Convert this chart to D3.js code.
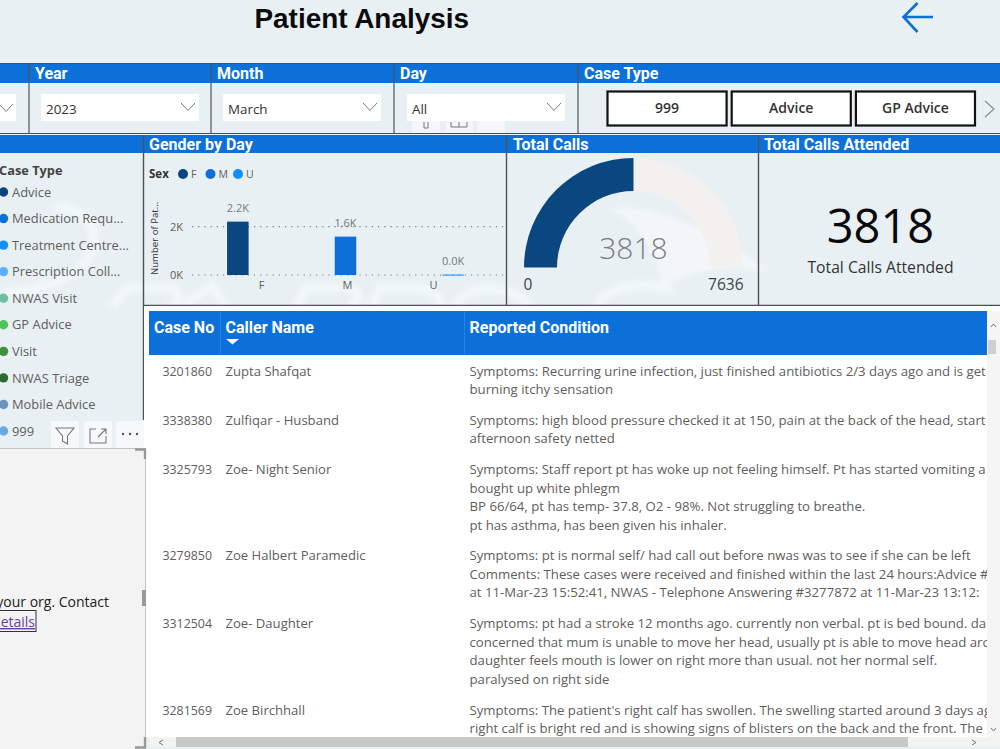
<!DOCTYPE html>
<html>
<head>
<meta charset="utf-8">
<script src="https://cdn.jsdelivr.net/npm/d3@7"></script>
<style>
  html, body { margin: 0; padding: 0; background: #e9f0f4; overflow: hidden; }
  svg { display: block; }
  text { font-family: "Open Sans", sans-serif; }
  .head { font-family: Roboto, sans-serif; font-weight: 700; fill: #fff; font-size: 16px; }
  .axis path, .axis line { display: none; }
</style>
</head>
<body>
<svg id="chart" width="1000" height="749"></svg>
<script>
// Data
var sexes = ["F", "M", "U"];
var patients = [2210, 1590, 18];
var totalCalls = 3818;
var gaugeMax = 7636;
var caseTypes = ["Advice", "Medication Requ...", "Treatment Centre...", "Prescription Coll...", "NWAS Visit",
  "GP Advice", "Visit", "NWAS Triage", "Mobile Advice", "999"];
var caseColors = ["#0a4480", "#0b71d9", "#118dff", "#5cb1ff", "#6fbf9f", "#4fc35b", "#3f8f3f", "#2a6b32", "#6b93bf", "#69a9e8"];
var slicerLabels = ["Year", "Month", "Day"];
var slicerValues = ["2023", "March", "All"];
var caseButtons = ["999", "Advice", "GP Advice"];
var caseNos = ["3201860", "3338380", "3325793", "3279850", "3312504", "3281569"];
var callers = ["Zupta Shafqat", "Zulfiqar - Husband", "Zoe- Night Senior", "Zoe Halbert Paramedic", "Zoe- Daughter", "Zoe Birchhall"];
var conditions = [
  ["Symptoms: Recurring urine infection, just finished antibiotics 2/3 days ago and is get",
   "burning itchy sensation"],
  ["Symptoms: high blood pressure checked it at 150, pain at the back of the head, start",
   "afternoon safety netted"],
  ["Symptoms: Staff report pt has woke up not feeling himself. Pt has started vomiting a",
   "bought up white phlegm",
   "BP 66/64, pt has temp- 37.8, O2 - 98%. Not struggling to breathe.",
   "pt has asthma, has been given his inhaler."],
  ["Symptoms: pt is normal self/ had call out before nwas was to see if she can be left",
   "Comments: These cases were received and finished within the last 24 hours:Advice #",
   "at 11-Mar-23 15:52:41, NWAS - Telephone Answering #3277872 at 11-Mar-23 13:12:"],
  ["Symptoms: pt had a stroke 12 months ago. currently non verbal. pt is bed bound. da",
   "concerned that mum is unable to move her head, usually pt is able to move head arc",
   "daughter feels mouth is lower on right more than usual. not her normal self.",
   "paralysed on right side"],
  ["Symptoms: The patient's right calf has swollen. The swelling started around 3 days ag",
   "right calf is bright red and is showing signs of blisters on the back and the front. The"]
];

var blue = "#0b71d9", navy = "#0a4780", grey = "#605e5c", edge = "#4d5256";
var svg = d3.select("#chart");
var defs = svg.append("defs");

defs.append("filter").attr("id", "soft").append("feGaussianBlur").attr("stdDeviation", 2.2);
defs.append("clipPath").attr("id", "tableClip").append("rect")
    .attr("x", 149).attr("y", 355).attr("width", 838).attr("height", 382);
defs.append("clipPath").attr("id", "greyClip").append("rect")
    .attr("x", 0).attr("y", 449).attr("width", 145).attr("height", 300);

// background, faint logo behind the panels
svg.append("rect").attr("width", 1000).attr("height", 749).attr("fill", "#e9f0f4");

var logo = svg.append("g").attr("filter", "url(#soft)").attr("fill", "none")
    .attr("stroke", "#f8fafb").attr("stroke-width", 9).attr("opacity", 0.65);
logo.append("path").attr("d", "M55 208C95 205 105 245 80 268C60 285 30 292 5 292");
logo.append("path").attr("d", "M112 306L128 288H165C182 288 182 300 170 306");
logo.append("path").attr("d", "M182 306L212 286L226 306");
logo.append("path").attr("d", "M296 306L306 288H345C360 288 362 300 350 306");
logo.append("path").attr("d", "M372 306L380 288H410C432 288 440 296 442 306");
logo.append("path").attr("d", "M455 306C465 284 510 282 530 306");
logo.append("path").attr("d", "M596 306C610 284 650 282 672 290");
logo.append("path").attr("stroke", "none").attr("fill", "#f8fafb")
    .attr("d", "M612 208C660 205 720 235 768 272C730 262 690 268 660 290C665 262 640 225 612 208Z");

// title and back arrow
svg.append("text").attr("x", 254.5).attr("y", 27.5).style("font-family", "'Liberation Sans'")
    .attr("font-size", 27.9).attr("font-weight", 700).attr("fill", "#0b0b0b").text("Patient Analysis");
svg.append("path").attr("fill", "none").attr("stroke", blue).attr("stroke-width", 2.6)
    .attr("d", "M933 17H904M917.5 3L903.5 17L917.5 32");

// slicer row
var slicerEdges = [29, 211, 394, 578, 1000];
svg.append("rect").attr("x", 0).attr("y", 64).attr("width", 1000).attr("height", 19).attr("fill", blue);
svg.append("path").attr("stroke", edge).attr("stroke-width", 1.2).attr("d", "M0 63.5H1000M0 133.5H1000");
svg.selectAll(".slicerEdge").data(slicerEdges.slice(0, 4)).enter().append("line")
    .attr("class", "slicerEdge").attr("x1", function(d) { return d; }).attr("x2", function(d) { return d; })
    .attr("y1", 64).attr("y2", 133).attr("stroke", edge).attr("stroke-width", 1.2);

function chevron(g, x, y) {
  g.append("path").attr("fill", "none").attr("stroke", "#77797c").attr("stroke-width", 1)
      .attr("d", "M" + (x - 7) + " " + (y - 4) + "L" + x + " " + (y + 3.5) + "L" + (x + 7) + " " + (y - 4));
}

svg.append("rect").attr("x", 0).attr("y", 94).attr("width", 16).attr("height", 27).attr("fill", "#fff");
chevron(svg, 6, 108);

slicerLabels.forEach(function(label, i) {
  var x0 = slicerEdges[i];
  svg.append("text").attr("class", "head").attr("x", x0 + 6).attr("y", 79).text(label);
  var left = (i == 2) ? 407 : x0 + 12;
  var right = (i == 2) ? 565 : x0 + 170;
  svg.append("rect").attr("x", left).attr("y", 94).attr("width", right - left).attr("height", 27).attr("fill", "#fff");
  svg.append("text").attr("x", left + 5).attr("y", 114).attr("font-size", 13.4).attr("fill", "#333")
      .text(slicerValues[i]);
  chevron(svg, right - 11, 107);
});

svg.append("text").attr("class", "head").attr("x", 584).attr("y", 79).text("Case Type");
var buttonX = d3.scaleBand().domain(caseButtons).range([606.5, 976]).paddingInner(0.025).paddingOuter(0);
var buttons = svg.selectAll(".caseButton").data(caseButtons).enter().append("g").attr("class", "caseButton");
buttons.append("rect")
    .attr("x", function(d) { return buttonX(d) + 1; })
    .attr("y", 91.5)
    .attr("width", buttonX.bandwidth() - 2)
    .attr("height", 34)
    .attr("fill", "#fff").attr("stroke", "#111").attr("stroke-width", 2.2);
buttons.append("text")
    .attr("x", function(d) { return buttonX(d) + buttonX.bandwidth() / 2; })
    .attr("y", 113).attr("text-anchor", "middle")
    .attr("font-size", 14).attr("font-weight", 600).attr("fill", "#333")
    .text(function(d) { return d; });
svg.append("path").attr("fill", "none").attr("stroke", "#8a8d90").attr("stroke-width", 1.2).attr("d", "M985 101L994 109L985 117");

// clipped header icons of the chart below the Day slicer
[[412, 28], [446, 27], [477, 28]].forEach(function(b) {
  svg.append("rect").attr("x", b[0]).attr("y", 121).attr("width", b[1]).attr("height", 12).attr("fill", "#f4f6f8");
});
svg.append("path").attr("fill", "none").attr("stroke", "#777").attr("stroke-width", 1)
    .attr("d", "M424 122V128H428V122M451 122V127H467V122M459 122V127");

// second row headers
svg.append("rect").attr("x", 0).attr("y", 135).attr("width", 1000).attr("height", 18).attr("fill", blue);
svg.append("text").attr("class", "head").attr("x", 149).attr("y", 150).text("Gender by Day");
svg.append("text").attr("class", "head").attr("x", 513).attr("y", 150).text("Total Calls");
svg.append("text").attr("class", "head").attr("x", 764).attr("y", 150).text("Total Calls Attended");
svg.append("path").attr("fill", "none").attr("stroke", edge).attr("stroke-width", 1.4)
    .attr("d", "M143.5 135V420M506.5 135V305M758.5 135V305M143 305.5H1000");

// case type legend
svg.append("text").attr("x", -1).attr("y", 174.5).attr("font-size", 12.8).attr("font-weight", 700).attr("fill", "#444").text("Case Type");
var legendY = d3.scalePoint().domain(caseTypes).range([192, 431]);
var legend = svg.selectAll(".caseLegend").data(caseTypes).enter().append("g").attr("class", "caseLegend");
legend.append("circle")
    .attr("cx", 3.5)
    .attr("cy", function(d) { return legendY(d); })
    .attr("r", 4.7)
    .attr("fill", function(d, i) { return caseColors[i]; });
legend.append("text")
    .attr("x", 12)
    .attr("y", function(d) { return legendY(d) + 4.7; })
    .attr("font-size", 12.9).attr("fill", grey)
    .text(function(d) { return d; });

// Gender by Day bars
var x = d3.scaleBand().domain(sexes).range([184, 507]).paddingInner(0.8).paddingOuter(0.4);
var xLabels = d3.scalePoint().domain(sexes).range([261, 433]);
var y = d3.scaleLinear().domain([0, 2000]).range([275, 226.7]);
var sexColor = d3.scaleOrdinal().domain(sexes).range([navy, blue, "#118dff"]);
var fmtK = function(v) { return d3.format(".1f")(v / 1000) + "K"; };

svg.append("text").attr("x", 149).attr("y", 178).attr("font-size", 11.5).attr("font-weight", 700).attr("fill", "#333").text("Sex");
var sexX = d3.scalePoint().domain(sexes).range([183, 238]);
var sexLegend = svg.selectAll(".sexLegend").data(sexes).enter().append("g").attr("class", "sexLegend");
sexLegend.append("circle")
    .attr("cx", function(d) { return sexX(d); })
    .attr("cy", 174).attr("r", 5)
    .attr("fill", function(d) { return sexColor(d); });
sexLegend.append("text")
    .attr("x", function(d) { return sexX(d) + 8; })
    .attr("y", 178).attr("font-size", 10.5).attr("fill", grey)
    .text(function(d) { return d; });

svg.selectAll(".grid").data(y.ticks(1)).enter().append("line")
    .attr("class", "grid")
    .attr("x1", 192).attr("x2", 503)
    .attr("y1", function(d) { return y(d); })
    .attr("y2", function(d) { return y(d); })
    .attr("stroke", "#77797b").attr("stroke-width", 1.2).attr("stroke-dasharray", "1.2 5");

svg.append("g").attr("class", "axis")
    .attr("transform", "translate(191,0)")
    .call(d3.axisLeft(y).tickValues([0, 2000]).tickFormat(function(d) { return (d / 1000) + "K"; }).tickSize(0).tickPadding(8))
    .selectAll("text").attr("font-size", 11).attr("fill", grey).style("font-family", "'Open Sans'");
svg.append("g").attr("class", "axis")
    .attr("transform", "translate(0,279)")
    .call(d3.axisBottom(xLabels).tickSize(0).tickPadding(0))
    .selectAll("text").attr("font-size", 11).attr("fill", grey).attr("dy", "0.9em").style("font-family", "'Open Sans'");

svg.append("text").attr("transform", "translate(158,275) rotate(-90)")
    .attr("font-size", 9.6).attr("fill", "#333").text("Number of Pat...");

svg.selectAll(".bar").data(patients).enter().append("rect")
    .attr("class", "bar")
    .attr("x", function(d, i) { return x(sexes[i]); })
    .attr("y", function(d) { return y(d); })
    .attr("width", x.bandwidth())
    .attr("height", function(d) { return Math.max(1, y(0) - y(d)); })
    .attr("fill", function(d, i) { return sexColor(sexes[i]); });
svg.selectAll(".barLabel").data(patients).enter().append("text")
    .attr("class", "barLabel")
    .attr("x", function(d, i) { return x(sexes[i]) + x.bandwidth() / 2; })
    .attr("y", function(d) { return y(d) - 9.5; })
    .attr("text-anchor", "middle").attr("font-size", 11).attr("fill", "#777")
    .text(fmtK);

// gauge
var gaugeAngle = d3.scaleLinear().domain([0, gaugeMax]).range([-Math.PI / 2, Math.PI / 2]);
var gaugeArc = d3.arc().innerRadius(76.5).outerRadius(109.5);
var gauge = svg.append("g").attr("transform", "translate(633.5,267.5)");
gauge.append("path").attr("fill", "#f3f1ef")
    .attr("d", gaugeArc({startAngle: gaugeAngle(0), endAngle: gaugeAngle(gaugeMax)}));
gauge.append("path").attr("fill", navy)
    .attr("d", gaugeArc({startAngle: gaugeAngle(0), endAngle: gaugeAngle(totalCalls)}));
gauge.append("text").attr("x", 0).attr("y", -9).attr("text-anchor", "middle")
    .attr("font-size", 30).attr("fill", "#7a7c7e").attr("font-weight", 300).text(totalCalls);
gauge.append("text").attr("x", -110).attr("y", 22).attr("font-size", 15.5).attr("fill", "#444").text(0);
gauge.append("text").attr("x", 110).attr("y", 22).attr("text-anchor", "end").attr("font-size", 15.5).attr("fill", "#444").text(gaugeMax);

// card
svg.append("text").attr("x", 880.5).attr("y", 243).attr("text-anchor", "middle")
    .attr("font-size", 47).attr("fill", "#0a0a0a").text(totalCalls);
svg.append("text").attr("x", 880.5).attr("y", 273).attr("text-anchor", "middle")
    .attr("font-size", 15.7).attr("fill", "#333").text("Total Calls Attended");

// table
svg.append("rect").attr("x", 144).attr("y", 306).attr("width", 856).attr("height", 431).attr("fill", "#fff");
svg.append("rect").attr("x", 149).attr("y", 311).attr("width", 838).attr("height", 44).attr("fill", blue);
svg.append("path").attr("stroke", "#2b80de").attr("d", "M220.5 311V355M464.5 311V355");
svg.append("text").attr("class", "head").attr("x", 154).attr("y", 333).text("Case No");
svg.append("text").attr("class", "head").attr("x", 225.5).attr("y", 333).text("Caller Name");
svg.append("text").attr("class", "head").attr("x", 469.5).attr("y", 333).text("Reported Condition");
svg.append("path").attr("fill", "#fff").attr("d", "M226 339H239L232.5 344.5Z");

var lineH = 18.5, rowGap = 12.3;
var rowTop = 0;
var rowTops = conditions.map(function(lines) {
  var t = rowTop;
  rowTop += lines.length * lineH + rowGap;
  return t;
});

var rows = svg.append("g").attr("clip-path", "url(#tableClip)")
  .selectAll(".row").data(conditions).enter().append("g")
    .attr("class", "row")
    .attr("transform", "translate(0,375.5)");
rows.append("text").attr("x", 212).attr("y", function(d, i) { return rowTops[i]; })
    .attr("text-anchor", "end").attr("font-size", 12.4).attr("fill", grey)
    .text(function(d, i) { return caseNos[i]; });
rows.append("text").attr("x", 225.5).attr("y", function(d, i) { return rowTops[i]; })
    .attr("font-size", 13.1).attr("fill", grey)
    .text(function(d, i) { return callers[i]; });
rows.each(function(lines, i) {
  d3.select(this).selectAll(".cond").data(lines).enter().append("text")
      .attr("class", "cond")
      .attr("x", 469.5)
      .attr("y", function(d, j) { return rowTops[i] + j * lineH; })
      .attr("font-size", 13.2).attr("fill", grey)
      .text(function(d) { return d; });
});

// scrollbars
svg.append("rect").attr("x", 987).attr("y", 311).attr("width", 13).attr("height", 426).attr("fill", "#f5f5f5");
svg.append("rect").attr("x", 988).attr("y", 340).attr("width", 8).attr("height", 14).attr("fill", "#cfcfcf");
svg.append("rect").attr("x", 149).attr("y", 737).attr("width", 851).attr("height", 10).attr("fill", "#f3f3f3");
svg.append("rect").attr("x", 176).attr("y", 737).attr("width", 732).attr("height", 10).attr("fill", "#c8c8c8");
svg.append("path").attr("fill", "none").attr("stroke", "#777").attr("stroke-width", 1)
    .attr("d", "M991 327L993.5 324L996 327M991 728L993.5 731L996 728M163 740L159 742.5L163 745M972 740L976 742.5L972 745");

// grey error panel over the left column
svg.append("rect").attr("x", 0).attr("y", 449).attr("width", 145).attr("height", 300).attr("fill", "#f3f3f3");
svg.append("path").attr("fill", "none").attr("stroke", "#c4c4c4").attr("d", "M0 448.5H145.5V749");
svg.append("path").attr("fill", "none").attr("stroke", "#999").attr("stroke-width", 2.4)
    .attr("d", "M135 449.5H145V459M135 747.5H145V737");
svg.append("rect").attr("x", 142).attr("y", 590).attr("width", 4).attr("height", 16).attr("fill", "#999");
var grp = svg.append("g").attr("clip-path", "url(#greyClip)");
grp.append("text").attr("x", 109).attr("y", 607).attr("text-anchor", "end").attr("font-size", 14).attr("fill", "#222").text("your org. Contact");
grp.append("text").attr("x", 35).attr("y", 627).attr("text-anchor", "end").attr("font-size", 14)
    .attr("fill", "#6a3fa0").attr("text-decoration", "underline").text("details");
grp.append("rect").attr("x", -3).attr("y", 610.5).attr("width", 39).attr("height", 21).attr("fill", "none").attr("stroke", "#333");

// visual header icons
[[51, 28], [84, 28], [116, 28]].forEach(function(b) {
  svg.append("rect").attr("x", b[0]).attr("y", 421).attr("width", b[1]).attr("height", 27).attr("fill", "#f6f8fa");
});
svg.append("path").attr("fill", "none").attr("stroke", "#777").attr("stroke-width", 1.1)
    .attr("d", "M56 428H74L67.5 436V444L62.5 441V436ZM96 429H90V443H106V436M98 437L106 429M101 429H106V434");
svg.selectAll(".moreDot").data([0, 1, 2]).enter().append("circle")
    .attr("class", "moreDot")
    .attr("cx", function(d) { return 123 + d * 7; })
    .attr("cy", 434).attr("r", 1.2).attr("fill", "#555");
</script>
</body>
</html>
